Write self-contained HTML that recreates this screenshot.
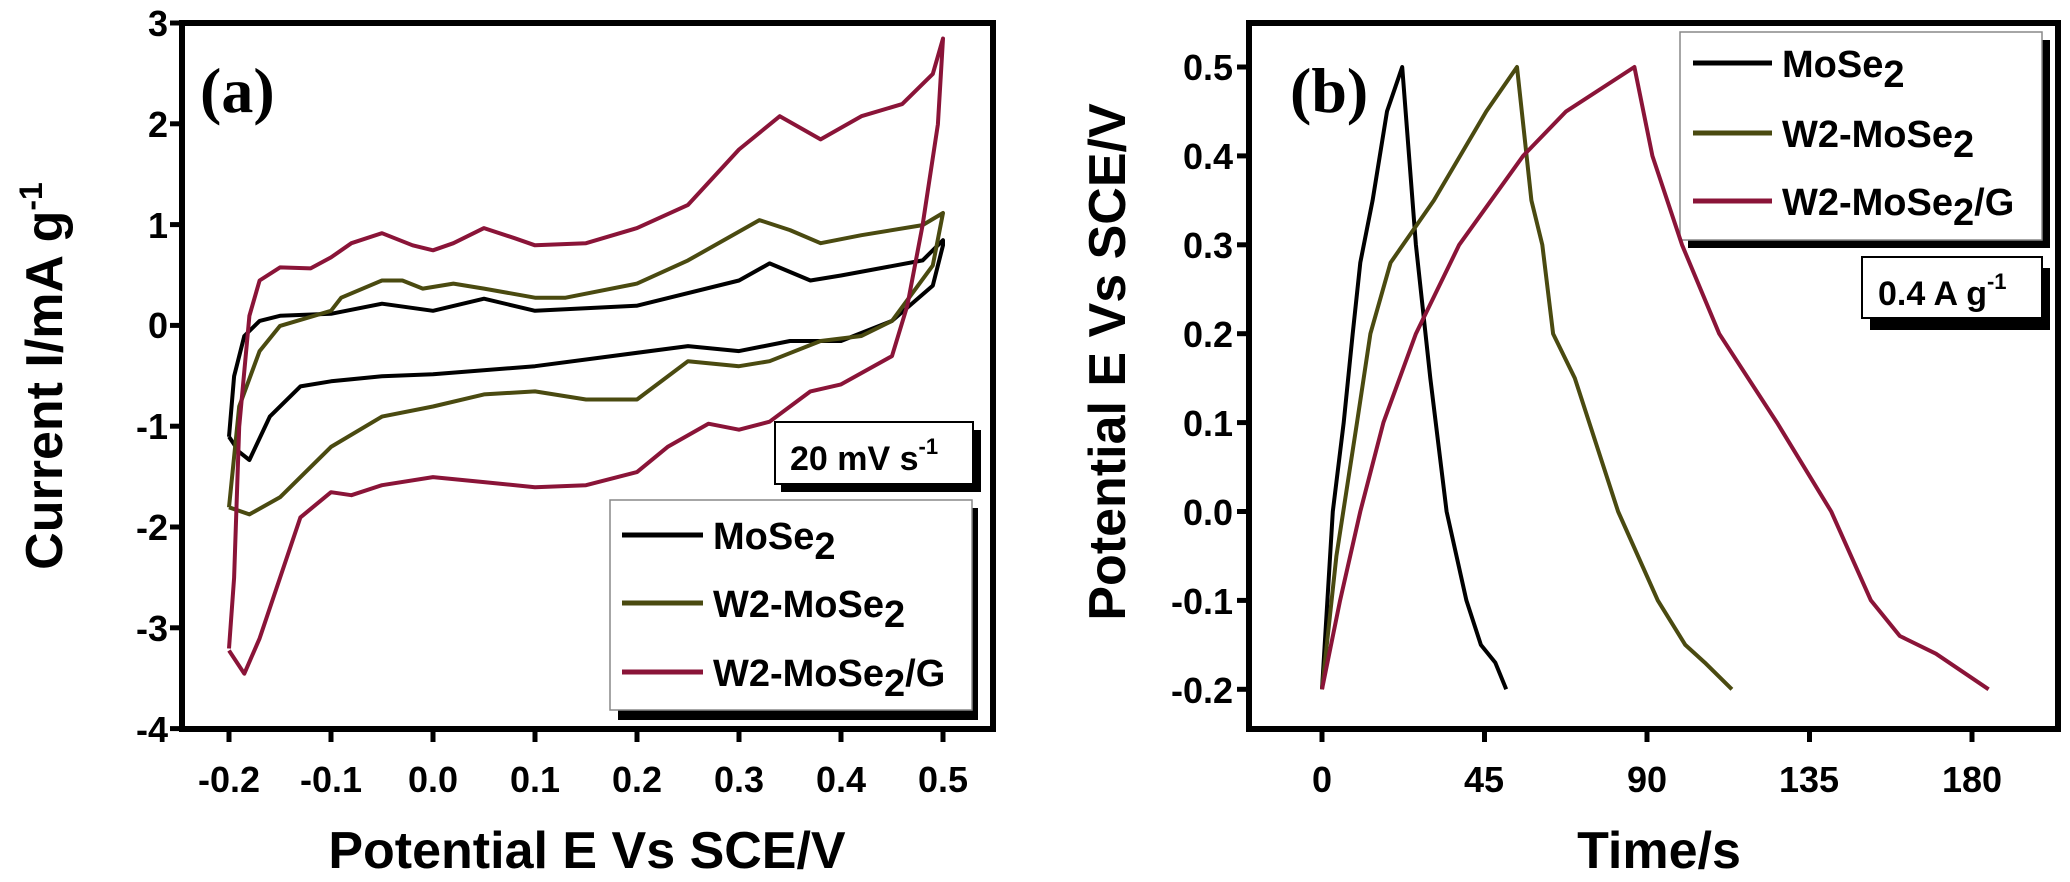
<!DOCTYPE html>
<html><head><meta charset="utf-8"><style>
html,body{margin:0;padding:0;background:#fff;}
svg{display:block;}
text{font-family:"Liberation Sans",Arial,sans-serif;font-weight:bold;fill:#000;}
.t{font-size:36px;}
.ttl{font-size:52px;}
.lg{font-size:38px;}
.pl{font-family:"Liberation Serif",serif;font-size:64px;}
</style></head><body>
<svg id="s" width="2070" height="882" viewBox="0 0 2070 882" xmlns="http://www.w3.org/2000/svg">
<!-- Panel a frame -->
<rect x="182" y="23" width="811" height="706" fill="none" stroke="#000" stroke-width="6"/>
<g id="ta" stroke="#000" stroke-width="5" fill="none"></g>
<g class="t" text-anchor="end">
<text x="168" y="36">3</text><text x="168" y="137">2</text><text x="168" y="238">1</text>
<text x="168" y="338">0</text><text x="168" y="439">-1</text><text x="168" y="540">-2</text>
<text x="168" y="641">-3</text><text x="168" y="742">-4</text>
</g>
<g class="t" text-anchor="middle">
<text x="229" y="792">-0.2</text><text x="331" y="792">-0.1</text><text x="433" y="792">0.0</text>
<text x="535" y="792">0.1</text><text x="637" y="792">0.2</text><text x="739" y="792">0.3</text>
<text x="841" y="792">0.4</text><text x="943" y="792">0.5</text>
</g>
<text class="ttl" x="587" y="868" text-anchor="middle">Potential E Vs SCE/V</text>
<text class="ttl" transform="translate(62,376) rotate(-90)" text-anchor="middle">Current I/mA g<tspan font-size="32" dy="-20">-1</tspan></text>
<text class="pl" x="200" y="112">(a)</text>
<!-- 20 mV box -->
<rect x="781" y="430" width="200" height="62" fill="#000"/>
<rect x="775" y="422" width="198" height="62" fill="#fff" stroke="#000" stroke-width="2"/>
<text x="790" y="470" style="font-size:34px">20 mV s<tspan font-size="22" dy="-16">-1</tspan></text>
<!-- legend a -->
<rect x="618" y="508" width="360" height="212" fill="#000"/>
<rect x="610" y="500" width="362" height="210" fill="#fff" stroke="#888" stroke-width="1.5"/>
<line x1="622" y1="535" x2="703" y2="535" stroke="#000" stroke-width="5"/>
<line x1="622" y1="603" x2="703" y2="603" stroke="#4a4a10" stroke-width="5"/>
<line x1="622" y1="672" x2="703" y2="672" stroke="#8a1438" stroke-width="5"/>
<text class="lg" x="713" y="549">MoSe<tspan dy="10">2</tspan></text>
<text class="lg" x="713" y="617">W2-MoSe<tspan dy="10">2</tspan></text>
<text class="lg" x="713" y="686">W2-MoSe<tspan dy="10">2</tspan><tspan dy="-10">/G</tspan></text>

<!-- Panel b frame -->
<rect x="1249" y="23" width="809" height="706" fill="none" stroke="#000" stroke-width="6"/>
<g id="tb" stroke="#000" stroke-width="5" fill="none"></g>
<g class="t" text-anchor="end">
<text x="1233" y="80">0.5</text><text x="1233" y="169">0.4</text><text x="1233" y="258">0.3</text>
<text x="1233" y="347">0.2</text><text x="1233" y="436">0.1</text><text x="1233" y="525">0.0</text>
<text x="1233" y="614">-0.1</text><text x="1233" y="703">-0.2</text>
</g>
<g class="t" text-anchor="middle">
<text x="1322" y="792">0</text><text x="1484" y="792">45</text><text x="1647" y="792">90</text>
<text x="1809" y="792">135</text><text x="1972" y="792">180</text>
</g>
<text class="ttl" x="1659" y="868" text-anchor="middle">Time/s</text>
<text class="ttl" transform="translate(1125,362) rotate(-90)" text-anchor="middle">Potential E Vs SCE/V</text>
<text class="pl" x="1290" y="112">(b)</text>
<rect x="1688" y="40" width="362" height="208" fill="#000"/>
<rect x="1680" y="32" width="362" height="208" fill="#fff" stroke="#888" stroke-width="1.5"/>
<line x1="1693" y1="63" x2="1772" y2="63" stroke="#000" stroke-width="5"/>
<line x1="1693" y1="133" x2="1772" y2="133" stroke="#4a4a10" stroke-width="5"/>
<line x1="1693" y1="201" x2="1772" y2="201" stroke="#8a1438" stroke-width="5"/>
<text class="lg" x="1782" y="77">MoSe<tspan dy="10">2</tspan></text>
<text class="lg" x="1782" y="147">W2-MoSe<tspan dy="10">2</tspan></text>
<text class="lg" x="1782" y="215">W2-MoSe<tspan dy="10">2</tspan><tspan dy="-10">/G</tspan></text>
<rect x="1870" y="268" width="180" height="62" fill="#000"/>
<rect x="1862" y="257" width="180" height="61" fill="#fff" stroke="#000" stroke-width="2"/>
<text x="1878" y="305" style="font-size:34px">0.4 A g<tspan font-size="22" dy="-16">-1</tspan></text>
<g id="curves"></g>
</svg>
<script>
var NS="http://www.w3.org/2000/svg";
function el(p,n,a){var e=document.createElementNS(NS,n);for(var k in a)e.setAttribute(k,a[k]);p.appendChild(e);return e;}
var ta=document.getElementById('ta'),tb=document.getElementById('tb'),cv=document.getElementById('curves');
for(var i=0;i<8;i++){var y=23+i*100.8;el(ta,'line',{x1:170,y1:y,x2:182,y2:y});var x=229+i*102;el(ta,'line',{x1:x,y1:729,x2:x,y2:742});}
for(var i=0;i<8;i++){var y=67+i*88.9;el(tb,'line',{x1:1237,y1:y,x2:1249,y2:y});}
for(var i=0;i<5;i++){var x=1322+i*162.5;el(tb,'line',{x1:x,y1:729,x2:x,y2:742});}
function ax(v){return 229+(v+0.2)*1020;} function ay(v){return 325.9-v*100.8;}
function bx(t){return 1322+t*650/180;} function by(v){return 67+(0.5-v)*889;}
function draw(pts,fx,fy,col){var d='';pts.forEach(function(p,i){d+=(i?'L':'M')+fx(p[0]).toFixed(1)+' '+fy(p[1]).toFixed(1);});
el(cv,'path',{d:d,fill:'none',stroke:col,'stroke-width':4,'stroke-linejoin':'round'});}
var K='#000',O='#4a4a10',R='#8a1438';
draw([[-0.2,-1.1],[-0.195,-0.5],[-0.185,-0.1],[-0.17,0.05],[-0.15,0.1],[-0.1,0.12],[-0.05,0.22],[0,0.15],[0.05,0.27],[0.1,0.15],[0.2,0.2],[0.3,0.45],[0.33,0.62],[0.37,0.45],[0.4,0.5],[0.48,0.65],[0.5,0.85],[0.5,0.8],[0.49,0.4],[0.45,0.05],[0.4,-0.15],[0.35,-0.15],[0.3,-0.25],[0.25,-0.2],[0.1,-0.4],[0,-0.48],[-0.05,-0.5],[-0.1,-0.55],[-0.13,-0.6],[-0.16,-0.9],[-0.18,-1.33],[-0.19,-1.25],[-0.2,-1.1]],ax,ay,K);
draw([[-0.2,-1.8],[-0.19,-0.8],[-0.17,-0.25],[-0.15,0],[-0.1,0.15],[-0.09,0.28],[-0.05,0.45],[-0.03,0.45],[-0.01,0.37],[0.02,0.42],[0.05,0.37],[0.1,0.28],[0.13,0.28],[0.2,0.42],[0.25,0.65],[0.32,1.05],[0.35,0.95],[0.38,0.82],[0.42,0.9],[0.48,1.0],[0.5,1.12],[0.49,0.6],[0.45,0.05],[0.42,-0.1],[0.38,-0.15],[0.33,-0.35],[0.3,-0.4],[0.25,-0.35],[0.2,-0.73],[0.15,-0.73],[0.1,-0.65],[0.05,-0.68],[0,-0.8],[-0.05,-0.9],[-0.1,-1.2],[-0.15,-1.7],[-0.18,-1.87],[-0.2,-1.8]],ax,ay,O);
draw([[-0.2,-3.2],[-0.195,-2.5],[-0.19,-1.0],[-0.18,0.1],[-0.17,0.45],[-0.15,0.58],[-0.12,0.57],[-0.1,0.68],[-0.08,0.82],[-0.05,0.92],[-0.02,0.8],[0,0.75],[0.02,0.82],[0.05,0.97],[0.08,0.87],[0.1,0.8],[0.15,0.82],[0.2,0.97],[0.25,1.2],[0.3,1.75],[0.34,2.08],[0.38,1.85],[0.42,2.08],[0.46,2.2],[0.49,2.5],[0.5,2.85],[0.495,2.0],[0.48,1.0],[0.465,0.2],[0.45,-0.3],[0.4,-0.58],[0.37,-0.65],[0.33,-0.95],[0.3,-1.03],[0.27,-0.97],[0.23,-1.2],[0.2,-1.45],[0.15,-1.58],[0.1,-1.6],[0.05,-1.55],[0,-1.5],[-0.05,-1.58],[-0.08,-1.68],[-0.1,-1.65],[-0.13,-1.9],[-0.15,-2.5],[-0.17,-3.1],[-0.185,-3.45],[-0.2,-3.22]],ax,ay,R);
draw([[0,-0.2],[3,0.0],[6,0.1],[8.5,0.2],[10.6,0.28],[14,0.35],[18,0.45],[22.2,0.5],[26,0.3],[30,0.15],[34.5,0.0],[40,-0.1],[44,-0.15],[48,-0.17],[51,-0.2]],bx,by,K);
draw([[0,-0.2],[4,-0.05],[9.7,0.1],[13.4,0.2],[19,0.28],[31,0.35],[45.5,0.45],[54,0.5],[58,0.35],[61,0.3],[64,0.2],[70,0.15],[82,0.0],[93,-0.1],[100.6,-0.15],[106,-0.17],[113.5,-0.2]],bx,by,O);
draw([[0,-0.2],[5,-0.1],[10.6,0.0],[17,0.1],[26,0.2],[38,0.3],[55.7,0.4],[67.6,0.45],[86.5,0.5],[91.5,0.4],[99.7,0.3],[110,0.2],[126,0.1],[141,0.0],[152,-0.1],[160,-0.14],[170,-0.16],[184.6,-0.2]],bx,by,R);
</script>
</body></html>
